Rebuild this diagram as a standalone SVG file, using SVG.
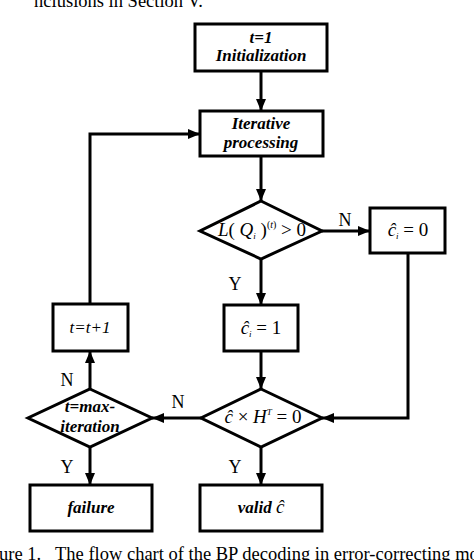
<svg xmlns="http://www.w3.org/2000/svg" width="474" height="560" viewBox="0 0 474 560">
<defs>
<marker id="ah" markerWidth="12" markerHeight="10" refX="12" refY="5" orient="auto" markerUnits="userSpaceOnUse">
<path d="M0,0 L12,5 L0,10 Z" fill="#000"/>
</marker>
<style>
.box{fill:#fff;stroke:#000;stroke-width:3}
.ln{fill:none;stroke:#000;stroke-width:3}
.bi{font-family:"Liberation Serif",serif;font-weight:bold;font-style:italic;font-size:17px;text-anchor:middle}
.it{font-family:"Liberation Serif",serif;font-style:italic;font-size:17px;text-anchor:middle}
.m{font-family:"Liberation Serif",serif;font-size:19px;text-anchor:middle}
.lbl{font-family:"Liberation Serif",serif;font-size:18px;text-anchor:middle}
.cap{font-family:"Liberation Serif",serif;font-size:18.5px}
</style>
</defs>
<rect width="474" height="560" fill="#fff"/>
<text class="cap" x="203" y="7" text-anchor="end" font-size="23">nclusions in Section V.</text>
<text class="cap" x="-1" y="560">ure 1.</text>
<text class="cap" x="55" y="560">The flow chart of the BP decoding in error-correcting mo</text>

<g id="connectors">
<path class="ln" d="M261,71 V111" marker-end="url(#ah)"/>
<path class="ln" d="M261,156 V201" marker-end="url(#ah)"/>
<path class="ln" d="M322,231 H370" marker-end="url(#ah)"/>
<path class="ln" d="M261,259 V305" marker-end="url(#ah)"/>
<path class="ln" d="M261,351 V389" marker-end="url(#ah)"/>
<path class="ln" d="M408,253 V418 H322" marker-end="url(#ah)"/>
<path class="ln" d="M201,418 H152" marker-end="url(#ah)"/>
<path class="ln" d="M90,389 V351" marker-end="url(#ah)"/>
<path class="ln" d="M90,304 V134 H200" marker-end="url(#ah)"/>
<path class="ln" d="M90,447 V485" marker-end="url(#ah)"/>
<path class="ln" d="M261,447 V485" marker-end="url(#ah)"/>
<text class="lbl" x="345" y="226">N</text>
<text class="lbl" x="235" y="290">Y</text>
<text class="lbl" x="178" y="408">N</text>
<text class="lbl" x="67" y="386">N</text>
<text class="lbl" x="67" y="473">Y</text>
<text class="lbl" x="235" y="473">Y</text>
</g>

<g id="init">
<rect class="box" x="195" y="24" width="132" height="47"/>
<text class="bi" x="261" y="43">t=1</text>
<text class="bi" x="261" y="61">Initialization</text>
</g>
<g id="iter">
<rect class="box" x="200" y="111" width="123" height="45"/>
<text class="bi" x="261" y="129">Iterative</text>
<text class="bi" x="261" y="148">processing</text>
</g>
<g id="d1">
<polygon class="box" points="261,201 322,231 261,259 200,231"/>
<text class="m" x="262" y="236" font-size="17"><tspan font-style="italic">L</tspan>( <tspan font-style="italic">Q</tspan><tspan font-size="9" dy="3" font-style="italic">i</tspan><tspan dy="-3"> )</tspan><tspan font-size="10" dy="-8">(</tspan><tspan font-size="10" font-style="italic">t</tspan><tspan font-size="10">)</tspan><tspan dy="8"> &gt; 0</tspan></text>
</g>
<g id="c0">
<rect class="box" x="370" y="208" width="75" height="45"/>
<text class="m" x="408" y="236"><tspan font-style="italic">ĉ</tspan><tspan font-size="9" dy="3" font-style="italic">i</tspan><tspan dy="-3"> = 0</tspan></text>
</g>
<g id="c1">
<rect class="box" x="224" y="305" width="74" height="46"/>
<text class="m" x="261" y="334"><tspan font-style="italic">ĉ</tspan><tspan font-size="9" dy="3" font-style="italic">i</tspan><tspan dy="-3"> = 1</tspan></text>
</g>
<g id="tt1">
<rect class="box" x="53" y="304" width="75" height="47"/>
<text class="it" x="90" y="333">t=t+1</text>
</g>
<g id="d3">
<polygon class="box" points="261,389 322,418 261,447 201,418"/>
<text class="m" x="263" y="423"><tspan font-style="italic">ĉ</tspan> × <tspan font-style="italic">H</tspan><tspan font-size="9" dy="-8" font-style="italic">T</tspan><tspan dy="8"> = 0</tspan></text>
</g>
<g id="d2">
<polygon class="box" points="90,389 152,418 90,447 28,418"/>
<text class="bi" x="90" y="412">t=max-</text>
<text class="bi" x="90" y="432">iteration</text>
</g>
<g id="failure">
<rect class="box" x="30" y="485" width="122" height="46"/>
<text class="bi" x="91" y="513">failure</text>
</g>
<g id="valid">
<rect class="box" x="200" y="485" width="122" height="46"/>
<text class="bi" x="261" y="513">valid <tspan font-weight="normal" font-size="19">ĉ</tspan></text>
</g>
</svg>
